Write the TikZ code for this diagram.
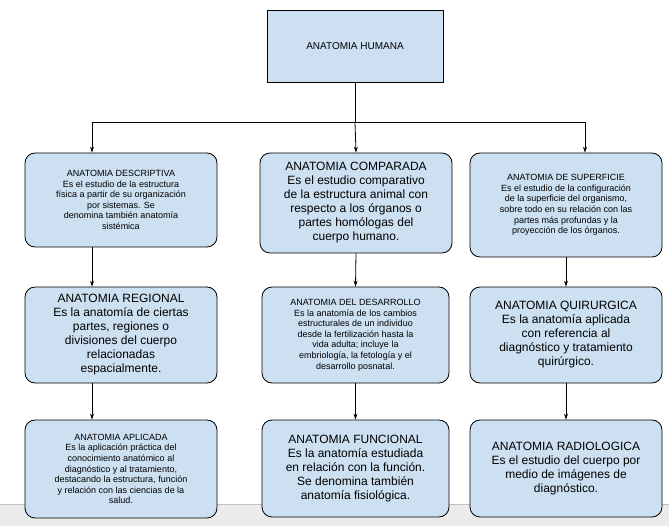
\documentclass[tikz,border=0pt]{standalone}
\usepackage{fontspec}
\setmainfont{Liberation Sans}
\usetikzlibrary{arrows.meta}
\definecolor{bx}{HTML}{CCE0F2}
\begin{document}
\begin{tikzpicture}[x=1pt,y=-1pt,
  bxs/.style={draw=black,fill=bx,rounded corners=10pt,align=center,inner sep=1pt,line width=0.8pt},
  sm/.style={font=\fontsize{9}{10.6}\selectfont},
  lg/.style={font=\fontsize{12}{14}\selectfont},
  arr/.style={-{Stealth[length=6pt,width=4pt]},line width=0.8pt}]
\useasboundingbox (0,0) rectangle (669,526);
\fill[white] (0,0) rectangle (669,526);
\fill[black!8] (0,504) rectangle (669,526);
\draw[black!25] (0,504) -- (669,504);
% top
\node[draw,fill=bx,line width=0.8pt,minimum width=176pt,minimum height=72pt,font=\fontsize{10}{12}\selectfont] (top) at (355,46) {ANATOMIA HUMANA};
% row1
\node[bxs,sm,minimum width=192pt,minimum height=94pt] (a1) at (121,200) {ANATOMIA DESCRIPTIVA\\Es el estudio de la estructura\\física a partir de su organización\\por sistemas. Se\\denomina también anatomía\\sistémica};
\node[bxs,lg,minimum width=192pt,minimum height=100pt] (b1) at (356,203) {ANATOMIA COMPARADA\\Es el estudio comparativo\\de la estructura animal con\\respecto a los órganos o\\partes homólogas del\\cuerpo humano.};
\node[bxs,sm,minimum width=192pt,minimum height=104pt] (c1) at (566,205) {ANATOMIA DE SUPERFICIE\\Es el estudio de la configuración\\de la superficie del organismo,\\sobre todo en su relación con las\\partes más profundas y la\\proyección de los órganos.};
% row2
\node[bxs,lg,minimum width=192pt,minimum height=96pt] (a2) at (121,335) {ANATOMIA REGIONAL\\Es la anatomía de ciertas\\partes, regiones o\\divisiones del cuerpo\\relacionadas\\espacialmente.};
\node[bxs,sm,minimum width=187pt,minimum height=96pt] (b2) at (355.5,335) {ANATOMIA DEL DESARROLLO\\Es la anatomía de los cambios\\estructurales de un individuo\\desde la fertilización hasta la\\vida adulta; incluye la\\embriología, la fetología y el\\desarrollo posnatal.};
\node[bxs,lg,minimum width=192pt,minimum height=96pt] (c2) at (566,335) {ANATOMIA QUIRURGICA\\Es la anatomía aplicada\\con referencia al\\diagnóstico y tratamiento\\quirúrgico.};
% row3
\node[bxs,sm,minimum width=192pt,minimum height=98pt] (a3) at (121,469) {ANATOMIA APLICADA\\Es la aplicación práctica del\\conocimiento anatómico al\\diagnóstico y al tratamiento,\\destacando la estructura, función\\y relación con las ciencias de la\\salud.};
\node[bxs,lg,minimum width=187pt,minimum height=97pt] (b3) at (355.5,468.5) {ANATOMIA FUNCIONAL\\Es la anatomía estudiada\\en relación con la función.\\Se denomina también\\anatomía fisiológica.};
\node[bxs,lg,minimum width=192pt,minimum height=97pt] (c3) at (566,468.5) {ANATOMIA RADIOLOGICA\\Es el estudio del cuerpo por\\medio de imágenes de\\diagnóstico.};
% connectors
\coordinate (j) at (355,122);
\draw[line width=0.8pt] (top.south) -- (j);
\draw[arr] (j) -| (a1.north -| 92,0);
\draw[arr] (j) -- (b1.north);
\draw[arr] (j) -| (c1.north -| 585,0);
\draw[arr] (a1.south -| 92,0) -- (a2.north -| 92,0);
\draw[arr] (b1.south) -- (b2.north);
\draw[arr] (c1.south) -- (c2.north);
\draw[arr] (a2.south -| 92,0) -- (a3.north -| 92,0);
\draw[arr] (b2.south) -- (b3.north);
\draw[arr] (c2.south) -- (c3.north);
\end{tikzpicture}
\end{document}
